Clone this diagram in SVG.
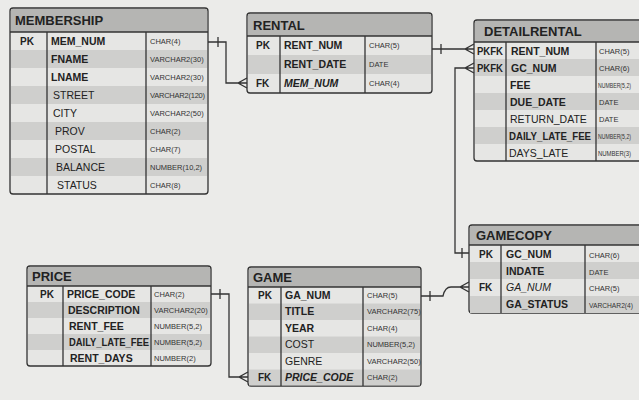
<svg xmlns="http://www.w3.org/2000/svg" width="639" height="400" viewBox="0 0 639 400">
<style>
.bg{fill:#ebebe9}
.box{fill:#e6e6e4;stroke:#333;stroke-width:1.3}
.hd{fill:#b5b5b3}
.st{fill:#cfcfcd}
.dv{stroke:#333;stroke-width:1.3}
.t{font-family:"Liberation Sans",Arial,sans-serif;fill:#222}
.title{font-size:13px;font-weight:bold}
.k{font-size:10px;font-weight:bold}
.n{font-size:10.5px}
.b{font-weight:bold}
.i{font-style:italic}
.ty{font-size:7.5px;fill:#333}
.c{fill:none;stroke:#333;stroke-width:1.3}
</style>
<rect class="bg" width="639" height="400"/>

<g id="membership">
<rect class="box" x="10" y="8" width="198" height="186" rx="3"/>
<rect class="hd" x="11" y="9" width="196" height="23"/>
<rect class="st" x="11" y="50" width="196" height="18"/><rect class="st" x="11" y="86" width="196" height="18"/><rect class="st" x="11" y="122" width="196" height="18"/><rect class="st" x="11" y="158" width="196" height="18"/>
<line class="dv" x1="10" y1="32" x2="208" y2="32"/><line class="dv" x1="47" y1="32" x2="47" y2="194"/><line class="dv" x1="146" y1="32" x2="146" y2="194"/>
<text class="t title" x="15" y="25">MEMBERSHIP</text>
<text class="t k" x="20" y="45">PK</text>
<g class="t n"><text class="b" x="51" y="45">MEM_NUM</text><text class="b" x="51" y="63">FNAME</text><text class="b" x="51" y="81">LNAME</text><text x="53" y="99">STREET</text><text x="53" y="117">CITY</text><text x="55" y="135">PROV</text><text x="55" y="153">POSTAL</text><text x="56" y="171">BALANCE</text><text x="57" y="189">STATUS</text></g>
<g class="t ty"><text x="150" y="44">CHAR(4)</text><text x="150" y="62">VARCHAR2(30)</text><text x="150" y="80">VARCHAR2(30)</text><text x="150" y="98" textLength="55">VARCHAR2(120)</text><text x="150" y="116">VARCHAR2(50)</text><text x="150" y="134">CHAR(2)</text><text x="150" y="152">CHAR(7)</text><text x="150" y="170">NUMBER(10,2)</text><text x="150" y="188">CHAR(8)</text></g>
</g>

<g id="rental">
<rect class="box" x="247" y="13" width="185" height="80" rx="3"/>
<rect class="hd" x="248" y="14" width="183" height="22"/>
<rect class="st" x="248" y="55" width="183" height="19"/>
<line class="dv" x1="247" y1="36" x2="432" y2="36"/><line class="dv" x1="280" y1="36" x2="280" y2="93"/><line class="dv" x1="365" y1="36" x2="365" y2="93"/>
<text class="t title" x="253" y="30">RENTAL</text>
<g class="t k"><text x="256" y="49">PK</text><text x="256" y="87">FK</text></g>
<g class="t n"><text class="b" x="284" y="49">RENT_NUM</text><text class="b" x="284" y="68">RENT_DATE</text><text class="b i" x="284" y="87">MEM_NUM</text></g>
<g class="t ty"><text x="369" y="48">CHAR(5)</text><text x="369" y="67">DATE</text><text x="369" y="86">CHAR(4)</text></g>
</g>

<g id="detailrental">
<rect class="box" x="474" y="20" width="170" height="141" rx="3"/>
<rect class="hd" x="475" y="21" width="168" height="21"/>
<rect class="st" x="475" y="59" width="168" height="17"/><rect class="st" x="475" y="93" width="168" height="17"/><rect class="st" x="475" y="127" width="168" height="17"/>
<line class="dv" x1="474" y1="42" x2="639" y2="42"/><line class="dv" x1="506" y1="42" x2="506" y2="161"/><line class="dv" x1="596" y1="42" x2="596" y2="161"/>
<text class="t title" x="484" y="36">DETAILRENTAL</text>
<g class="t k"><text x="477" y="55" textLength="26" lengthAdjust="spacingAndGlyphs">PKFK</text><text x="477" y="72" textLength="26" lengthAdjust="spacingAndGlyphs">PKFK</text></g>
<g class="t n"><text class="b" x="511" y="55">RENT_NUM</text><text class="b" x="511" y="72">GC_NUM</text><text class="b" x="510" y="89">FEE</text><text class="b" x="510" y="106">DUE_DATE</text><text x="510" y="123">RETURN_DATE</text><text class="b" x="509" y="140" textLength="82" lengthAdjust="spacingAndGlyphs">DAILY_LATE_FEE</text><text x="509" y="157">DAYS_LATE</text></g>
<g class="t ty"><text x="599" y="54">CHAR(5)</text><text x="599" y="71">CHAR(6)</text><text x="598" y="88" textLength="33" lengthAdjust="spacingAndGlyphs">NUMBER(5,2)</text><text x="599" y="105">DATE</text><text x="599" y="122">DATE</text><text x="598" y="139" textLength="33" lengthAdjust="spacingAndGlyphs">NUMBER(5,2)</text><text x="598" y="156" textLength="33" lengthAdjust="spacingAndGlyphs">NUMBER(3)</text></g>
</g>

<g id="gamecopy">
<rect class="box" x="469" y="225" width="175" height="88" rx="3"/>
<rect class="hd" x="470" y="226" width="173" height="19"/>
<rect class="st" x="470" y="262" width="173" height="17"/><rect class="st" x="470" y="296" width="173" height="17"/>
<line class="dv" x1="469" y1="245" x2="639" y2="245"/><line class="dv" x1="501" y1="245" x2="501" y2="313"/><line class="dv" x1="585" y1="245" x2="585" y2="313"/>
<text class="t title" x="476" y="240">GAMECOPY</text>
<g class="t k"><text x="479" y="258">PK</text><text x="479" y="291">FK</text></g>
<g class="t n"><text class="b" x="506" y="258">GC_NUM</text><text class="b" x="506" y="275">INDATE</text><text class="i" x="506" y="291">GA_NUM</text><text class="b" x="506" y="308">GA_STATUS</text></g>
<g class="t ty"><text x="589" y="258">CHAR(6)</text><text x="589" y="275">DATE</text><text x="589" y="291">CHAR(5)</text><text x="589" y="308" textLength="44" lengthAdjust="spacingAndGlyphs">VARCHAR2(4)</text></g>
</g>

<g id="price">
<rect class="box" x="27" y="266" width="184" height="100" rx="3"/>
<rect class="hd" x="28" y="267" width="182" height="19"/>
<rect class="st" x="28" y="302" width="182" height="16"/><rect class="st" x="28" y="334" width="182" height="16"/>
<line class="dv" x1="27" y1="286" x2="211" y2="286"/><line class="dv" x1="63" y1="286" x2="63" y2="366"/><line class="dv" x1="151" y1="286" x2="151" y2="366"/>
<text class="t title" x="32" y="281">PRICE</text>
<text class="t k" x="40" y="298">PK</text>
<g class="t n b"><text x="67" y="298">PRICE_CODE</text><text x="68" y="314">DESCRIPTION</text><text x="69" y="330">RENT_FEE</text><text x="69" y="346" textLength="80" lengthAdjust="spacingAndGlyphs">DAILY_LATE_FEE</text><text x="70" y="362">RENT_DAYS</text></g>
<g class="t ty"><text x="154" y="297">CHAR(2)</text><text x="154" y="313">VARCHAR2(20)</text><text x="154" y="329">NUMBER(5,2)</text><text x="154" y="345">NUMBER(5,2)</text><text x="154" y="361">NUMBER(2)</text></g>
</g>

<g id="game">
<rect class="box" x="248" y="267" width="173" height="119" rx="3"/>
<rect class="hd" x="249" y="268" width="171" height="19"/>
<rect class="st" x="249" y="303.5" width="171" height="16.5"/><rect class="st" x="249" y="336.5" width="171" height="16.5"/><rect class="st" x="249" y="369.5" width="171" height="16"/>
<line class="dv" x1="248" y1="287" x2="421" y2="287"/><line class="dv" x1="281" y1="287" x2="281" y2="386"/><line class="dv" x1="363" y1="287" x2="363" y2="386"/>
<text class="t title" x="253" y="282">GAME</text>
<g class="t k"><text x="258" y="299">PK</text><text x="258" y="381">FK</text></g>
<g class="t n"><text class="b" x="285" y="299">GA_NUM</text><text class="b" x="285" y="315">TITLE</text><text class="b" x="285" y="332">YEAR</text><text x="285" y="348">COST</text><text x="285" y="365">GENRE</text><text class="b i" x="285" y="381">PRICE_CODE</text></g>
<g class="t ty"><text x="367" y="298">CHAR(5)</text><text x="367" y="314">VARCHAR2(75)</text><text x="367" y="331">CHAR(4)</text><text x="367" y="347">NUMBER(5,2)</text><text x="367" y="364">VARCHAR2(50)</text><text x="367" y="380">CHAR(2)</text></g>
</g>

<g id="connectors">
<path class="c" d="M208,42 H226 V83 H247 M218,37 V47 M247,78 L238,83 L247,88"/>
<path class="c" d="M432,49 H474 M441,44 V54 M474,44 L465,49 L474,54"/>
<path class="c" d="M469,253 H455 V68 H474 M462,248 V258 M474,63 L465,68 L474,73"/>
<path class="c" d="M421,296 H443 Q445,287 451,287 H469 M430,291 V301 M469,282 L460,287 L469,292"/>
<path class="c" d="M211,294 H229 V377 H248 M220,289 V299 M248,372 L239,377 L248,382"/>
</g>
</svg>
